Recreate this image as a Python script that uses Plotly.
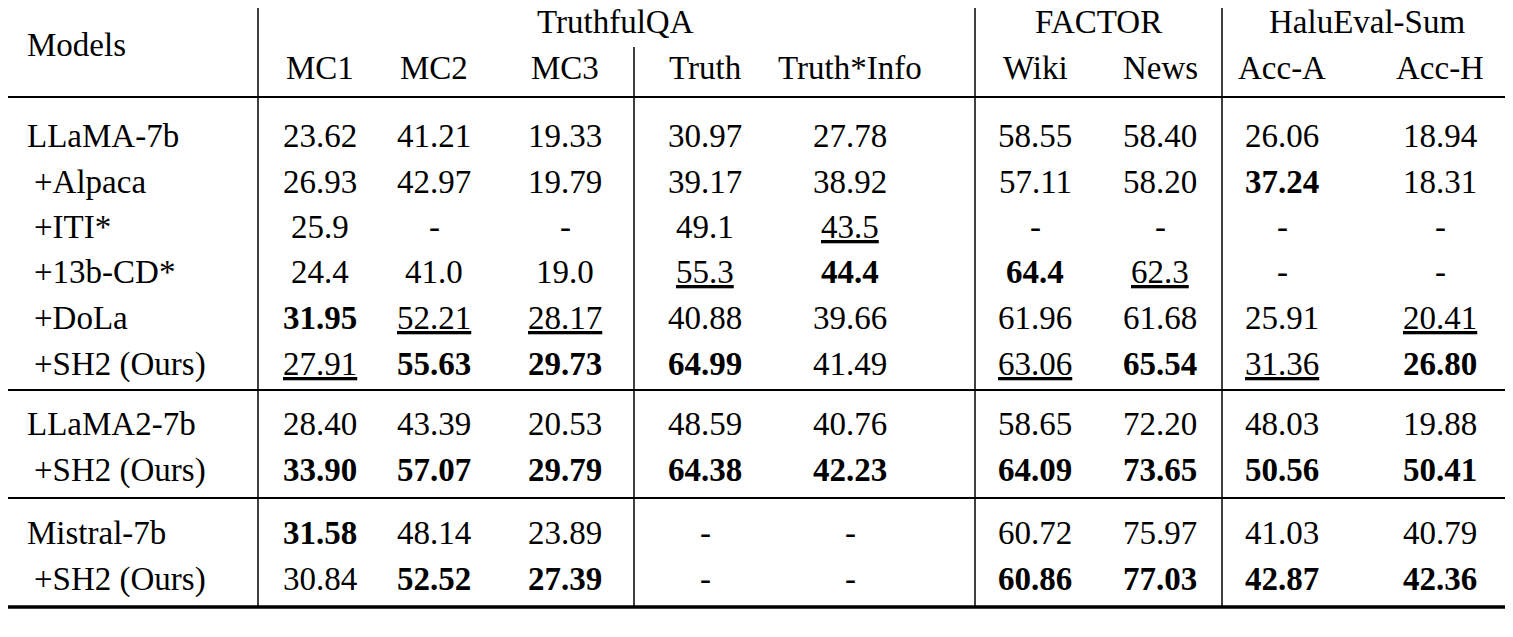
import plotly.graph_objects as go

models = ["LLaMA-7b", "+Alpaca", "+ITI*", "+13b-CD*", "+DoLa", "+SH2 (Ours)",
          "LLaMA2-7b", "+SH2 (Ours)", "Mistral-7b", "+SH2 (Ours)"]
columns = ["MC1", "MC2", "MC3", "Truth", "Truth*Info", "Wiki", "News", "Acc-A", "Acc-H"]
groups = ["TruthfulQA", "FACTOR", "HaluEval-Sum"]
MC1 = ["23.62", "26.93", "25.9", "24.4", "31.95", "27.91", "28.40", "33.90", "31.58", "30.84"]
MC2 = ["41.21", "42.97", "-", "41.0", "52.21", "55.63", "43.39", "57.07", "48.14", "52.52"]
MC3 = ["19.33", "19.79", "-", "19.0", "28.17", "29.73", "20.53", "29.79", "23.89", "27.39"]
Truth = ["30.97", "39.17", "49.1", "55.3", "40.88", "64.99", "48.59", "64.38", "-", "-"]
TruthInfo = ["27.78", "38.92", "43.5", "44.4", "39.66", "41.49", "40.76", "42.23", "-", "-"]
Wiki = ["58.55", "57.11", "-", "64.4", "61.96", "63.06", "58.65", "64.09", "60.72", "60.86"]
News = ["58.40", "58.20", "-", "62.3", "61.68", "65.54", "72.20", "73.65", "75.97", "77.03"]
AccA = ["26.06", "37.24", "-", "-", "25.91", "31.36", "48.03", "50.56", "41.03", "42.87"]
AccH = ["18.94", "18.31", "-", "-", "20.41", "26.80", "19.88", "50.41", "40.79", "42.36"]
values = [MC1, MC2, MC3, Truth, TruthInfo, Wiki, News, AccA, AccH]
# (row, col) styles
bold = {(4,0),(5,1),(5,2),(5,3),(3,4),(3,5),(5,6),(1,7),(5,8),
        (7,0),(7,1),(7,2),(7,3),(7,4),(7,5),(7,6),(7,7),(7,8),
        (8,0),(9,1),(9,2),(9,5),(9,6),(9,7),(9,8)}
under = {(5,0),(4,1),(4,2),(3,3),(2,4),(5,5),(3,6),(5,7),(4,8)}

OX, OY = 8, 8
col_x = [320, 434, 565, 705, 850, 1035, 1160, 1282, 1440]
row_y = [136, 182, 227, 272, 318, 364, 424, 470, 533, 579]
group_x = [615, 1098, 1367]
F = dict(family="Liberation Serif", size=33, color="black")

ann = []
def t(x, y, s, anchor="center"):
    ann.append(dict(x=x - OX, y=y - OY, text=s, showarrow=False, xanchor=anchor,
                    yanchor="middle", font=F))

t(25, 45, "Models", "left")
for g, x in zip(groups, group_x):
    t(x, 22, g)
for c, x in zip(columns, col_x):
    t(x, 68, c)
for i, m in enumerate(models):
    t(25 if i in (0, 6, 8) else 32, row_y[i], m, "left")
    for j, col in enumerate(values):
        s = col[i]
        if (i, j) in bold: s = "<b>" + s + "</b>"
        if (i, j) in under: s = "<u>" + s + "</u>"
        t(col_x[j], row_y[i], s)

shapes = []
def line(x0, y0, x1, y1, w=1.5):
    shapes.append(dict(type="line", x0=x0 - OX, y0=y0 - OY, x1=x1 - OX, y1=y1 - OY,
                       line=dict(color="black", width=w)))
line(0, 97, 1530, 97, 2)
line(0, 390, 1530, 390, 2)
line(0, 498, 1530, 498, 2)
line(0, 607, 1530, 607, 3.5)
for x in (258, 975, 1222):
    line(x, 0, x, 607)
line(634, 47, 634, 607)

fig = go.Figure()
fig.update_layout(width=1513, height=637, margin=dict(l=0, r=0, t=0, b=0),
                  plot_bgcolor="white", paper_bgcolor="white",
                  xaxis=dict(range=[0, 1513], visible=False, fixedrange=True),
                  yaxis=dict(range=[637, 0], visible=False, fixedrange=True),
                  annotations=ann, shapes=shapes, showlegend=False)
fig.write_html("out.html")
